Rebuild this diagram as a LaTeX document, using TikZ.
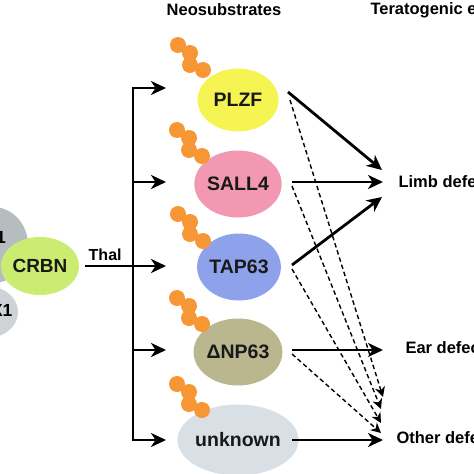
\documentclass[tikz,border=0pt]{standalone}
\usepackage{fontspec}
\setmainfont{Liberation Sans}
\usepackage{tikz}
\usetikzlibrary{shapes,arrows.meta,calc,positioning}
\definecolor{ddbgray}{RGB}{182,189,193}
\definecolor{rbxgray}{RGB}{206,211,215}
\definecolor{crbngreen}{RGB}{202,236,112}
\definecolor{plzfyellow}{RGB}{246,244,82}
\definecolor{sallpink}{RGB}{242,152,178}
\definecolor{tapblue}{RGB}{142,162,236}
\definecolor{dnpkhaki}{RGB}{186,182,142}
\definecolor{unkgray}{RGB}{216,223,229}
\definecolor{beadorange}{RGB}{246,150,52}
\tikzstyle{protein} = [ellipse, inner sep=0pt, minimum width=81pt,
    minimum height=67pt, text=black!90, font=\fontsize{19.5}{21}\selectfont\bfseries]
\tikzstyle{bead} = [fill=beadorange]
\tikzstyle{header} = [font=\fontsize{16.5}{18}\selectfont\bfseries]
\tikzstyle{effect} = [anchor=west, font=\fontsize{16.5}{18}\selectfont\bfseries]
\tikzstyle{output} = [coordinate]
\tikzstyle{solidline} = [line width=2.8pt]
\tikzstyle{solidarrow} = [line width=2.8pt, -{Stealth[length=15pt,width=14pt,inset=4.5pt]}]
\tikzstyle{dasharrow} = [line width=1.4pt, dash pattern=on 4.5pt off 3pt,
    -{Stealth[length=10pt,width=10pt,inset=3pt]}]
\begin{document}
\begin{tikzpicture}[x=1pt, y=-1pt]
    \useasboundingbox (0,0) rectangle (474,474);
    \clip (0,0) rectangle (474,474);
    % ligase complex
    \node [protein, fill=ddbgray, minimum width=70pt, minimum height=76pt] at (-7,245) (ddb) {};
    \node [protein, fill=rbxgray, minimum width=62pt, minimum height=52pt] at (-13,312) (rbx) {};
    \node [anchor=east, font=\fontsize{17.5}{19}\selectfont\bfseries] at (9.5,237) (ddbname) {DDB1};
    \node [anchor=east, font=\fontsize{17.5}{19}\selectfont\bfseries] at (16,310) (rbxname) {RBX1};
    \node [protein, fill=crbngreen, minimum width=78pt, minimum height=58pt,
        font=\fontsize{19}{21}\selectfont\bfseries] at (40,266) (crbn) {CRBN};
    % neosubstrates
    \node [protein, fill=plzfyellow, minimum height=63pt] at (238,100) (plzf) {PLZF};
    \node [protein, fill=sallpink] at (238,184) (sall) {SALL4};
    \node [protein, fill=tapblue] at (239,267) (tap) {TAP63};
    \node [protein, fill=dnpkhaki] at (238,352) (dnp) {ΔNP63};
    \node [protein, fill=unkgray, minimum height=71pt] at (238,440) (unk) {unknown};
    \fill [bead] ($(plzf)+(-60,-55)$) circle (8pt) ($(plzf)+(-48,-47)$) circle (8pt)
        ($(plzf)+(-48,-35)$) circle (8pt) ($(plzf)+(-35,-30)$) circle (8pt);
    \fill [bead] ($(sall)+(-61,-54)$) circle (8pt) ($(sall)+(-49,-46)$) circle (8pt)
        ($(sall)+(-49,-34)$) circle (8pt) ($(sall)+(-36,-28)$) circle (8pt);
    \fill [bead] ($(tap)+(-61,-53)$) circle (8pt) ($(tap)+(-49,-45)$) circle (8pt)
        ($(tap)+(-49,-33)$) circle (8pt) ($(tap)+(-36,-26)$) circle (8pt);
    \fill [bead] ($(dnp)+(-61,-54)$) circle (8pt) ($(dnp)+(-49,-46)$) circle (8pt)
        ($(dnp)+(-49,-34)$) circle (8pt) ($(dnp)+(-36,-28)$) circle (8pt);
    \fill [bead] ($(unk)+(-61,-56)$) circle (8pt) ($(unk)+(-49,-48)$) circle (8pt)
        ($(unk)+(-49,-36)$) circle (8pt) ($(unk)+(-36,-30)$) circle (8pt);
    % headers and effects
    \node [header] at (224,10) (neo) {Neosubstrates};
    \node [header, anchor=west] at (367,10) (terato) {Teratogenic effects};
    \node [effect] at (395,182) (limb) {Limb defects};
    \node [effect] at (402,348) (ear) {Ear defects};
    \node [effect] at (393,438) (other) {Other defects};
    % thalidomide branches
    \node [output, name=thal] at (85,266) {};
    \node [output, name=split] at (133,266) {};
    \node [output, name=b2] at (133,182) {};
    \node [output, name=b4] at (133,350) {};
    \node [output, name=a1] at (166,88) {};
    \node [output, name=a2] at (166,182) {};
    \node [output, name=a3] at (166,266) {};
    \node [output, name=a4] at (166,350) {};
    \node [output, name=a5] at (166,440) {};
    \draw [solidline] (thal) -- node [above=1pt, pos=0.42, font=\fontsize{16}{17}\selectfont\bfseries] {Thal} (split);
    \draw [solidarrow] (split) |- (a1);
    \draw [solidarrow] (split) |- (a5);
    \draw [solidarrow] (b2) -- (a2);
    \draw [solidarrow] (split) -- (a3);
    \draw [solidarrow] (b4) -- (a4);
    % effect arrows
    \node [output, name=plzf1] at (288,92) {};
    \node [output, name=sall1] at (292,182) {};
    \node [output, name=tap1] at (292,265) {};
    \node [output, name=dnp1] at (292,350) {};
    \node [output, name=unk1] at (292,440) {};
    \node [output, name=plzf2] at (290,100) {};
    \node [output, name=sall2] at (292,186) {};
    \node [output, name=tap2] at (292,269) {};
    \node [output, name=dnp2] at (292,354) {};
    \node [output, name=limb1] at (382,170) {};
    \node [output, name=limb2] at (383,182) {};
    \node [output, name=limb3] at (382,197) {};
    \node [output, name=ear1] at (383,350) {};
    \node [output, name=other1] at (383,397) {};
    \node [output, name=other2] at (381,409) {};
    \node [output, name=other3] at (381,423) {};
    \node [output, name=other4] at (381,433) {};
    \node [output, name=other5] at (383,440) {};
    \draw [dasharrow] (plzf2) -- (other1);
    \draw [dasharrow] (sall2) -- (other2);
    \draw [dasharrow] (tap2) -- (other3);
    \draw [dasharrow] (dnp2) -- (other4);
    \draw [solidarrow] (plzf1) -- (limb1);
    \draw [solidarrow] (sall1) -- (limb2);
    \draw [solidarrow] (tap1) -- (limb3);
    \draw [solidarrow] (dnp1) -- (ear1);
    \draw [solidarrow] (unk1) -- (other5);
\end{tikzpicture}
\end{document}
